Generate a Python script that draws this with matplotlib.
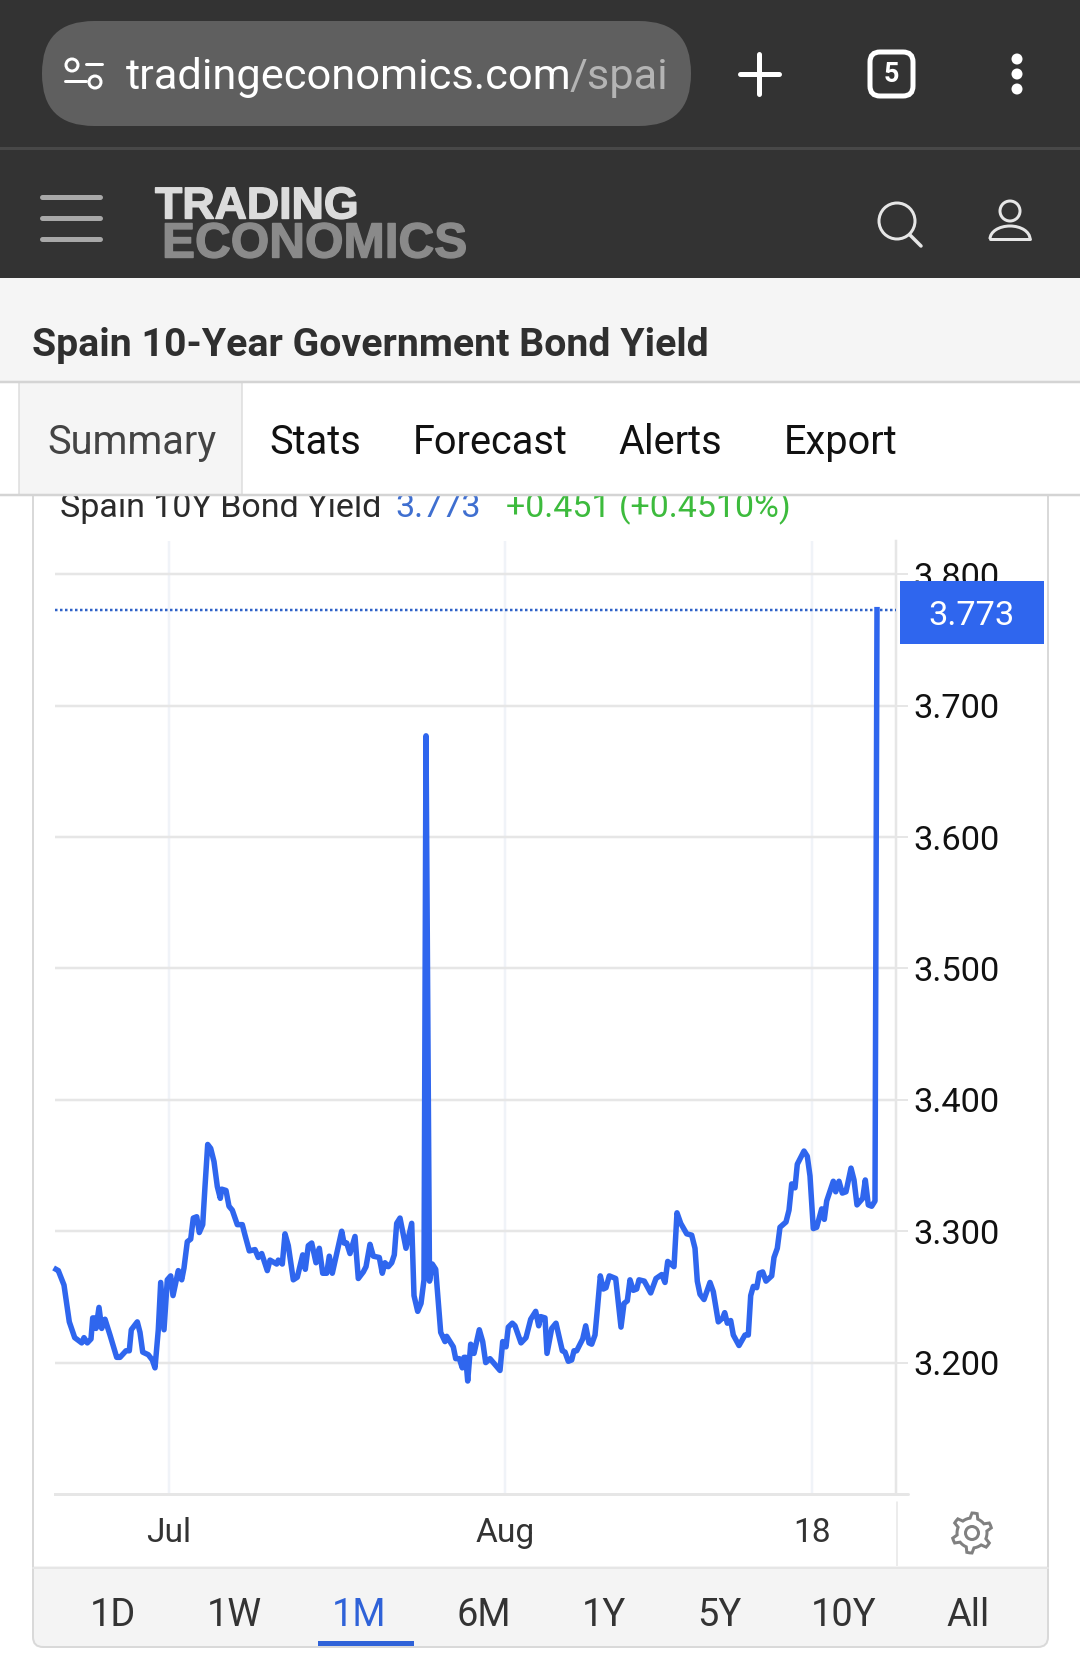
import matplotlib
matplotlib.use("Agg")
import matplotlib.pyplot as plt
import matplotlib.patheffects as pe
from matplotlib.patches import Rectangle, FancyBboxPatch, Circle, Polygon, Arc
import numpy as np

plt.rcParams['font.family'] = ['Roboto', 'DejaVu Sans']

# values, obs = position along the chart's ordinal x axis
obs = [1, 3.3, 9, 11.7, 14.3, 19.7, 26.7, 29, 32.3, 36, 37.7, 40, 41, 44, 46.7, 50, 55, 61.7, 65, 71,
       74.3, 76.3, 82.3, 85, 87.7, 93.3, 97.3, 100, 103.3, 105.7, 109, 112.3, 115.7, 118, 123.3, 126.7,
       129, 132.3, 135.7, 138.3, 141.7, 144.3, 147.7, 150, 152.7, 155.7, 159, 162.3, 165.3, 166.7, 171,
       174, 177.3, 182.3, 187.3, 190, 194.3, 200, 203.3, 206.7, 212.3, 215, 221.7, 223.3, 227.3, 230,
       233.3, 238.3, 242.3, 247.7, 250.3, 253.3, 256.7, 261, 264.3, 267.7, 271.7, 274.3, 277.3, 286.7,
       289, 291.7, 295, 300, 303.3, 308.3, 311, 315, 318.3, 324.3, 327.3, 330, 333.3, 336.7, 339.3,
       341.7, 345, 351, 356.7, 359, 362.7, 366, 369, 371, 374.5, 377.3, 380.7, 385.7, 390, 391.7, 398.3,
       400.7, 404.3, 407.3, 409, 410.7, 412.7, 415.7, 419, 424.3, 427.7, 430.7, 435, 445, 447.7, 451,
       453.3, 457.3, 460, 466, 471, 475.7, 480.7, 483.7, 485.7, 490, 492, 496.7, 501, 507.3, 510, 513.3,
       516.7, 519, 521.7, 527.7, 530.7, 534, 536.7, 540, 542.3, 545.3, 548.3, 551, 554.3, 560.7, 566,
       569, 572.3, 575, 578.3, 581.7, 584, 589.3, 595.7, 601, 606.7, 610, 612.7, 619, 622, 625.7, 631.7,
       636.7, 640, 642.3, 645, 649, 655, 658.3, 663.3, 667.7, 669.7, 672.3, 675.7, 678.3, 684, 690,
       693.3, 695.7, 698.3, 701.7, 704.3, 707.7, 711, 716.7, 719, 722.3, 725, 731, 734, 736.7, 740,
       742.3, 749, 752.3, 755, 758.3, 761.7, 766.7, 769.3, 771.7, 778.3, 780.7, 784, 787.3, 791, 796,
       799, 802, 807.7, 810.3, 813.3, 816.7, 820, 822]
yields = [3.271, 3.270, 3.259, 3.245, 3.231, 3.219, 3.215, 3.219, 3.215, 3.218, 3.234, 3.234, 3.226, 3.242,
          3.226, 3.233, 3.221, 3.204, 3.204, 3.209, 3.209, 3.225, 3.231, 3.223, 3.208, 3.206, 3.202, 3.196,
          3.225, 3.261, 3.225, 3.263, 3.266, 3.251, 3.270, 3.263, 3.272, 3.292, 3.294, 3.310, 3.311, 3.299,
          3.305, 3.334, 3.366, 3.363, 3.353, 3.334, 3.325, 3.332, 3.331, 3.319, 3.316, 3.305, 3.305, 3.297,
          3.285, 3.286, 3.280, 3.283, 3.270, 3.278, 3.275, 3.278, 3.275, 3.298, 3.289, 3.263, 3.265, 3.282,
          3.271, 3.289, 3.291, 3.276, 3.287, 3.268, 3.268, 3.281, 3.268, 3.300, 3.291, 3.291, 3.283, 3.296,
          3.264, 3.269, 3.273, 3.290, 3.281, 3.280, 3.268, 3.276, 3.273, 3.276, 3.282, 3.306, 3.310, 3.287,
          3.306, 3.251, 3.239, 3.245, 3.263, 3.677, 3.262, 3.275, 3.271, 3.223, 3.216, 3.220, 3.212, 3.203,
          3.203, 3.196, 3.204, 3.204, 3.186, 3.214, 3.207, 3.225, 3.216, 3.200, 3.203, 3.194, 3.216, 3.212,
          3.227, 3.230, 3.228, 3.215, 3.219, 3.233, 3.239, 3.228, 3.235, 3.234, 3.207, 3.226, 3.230, 3.209,
          3.208, 3.201, 3.202, 3.209, 3.209, 3.218, 3.228, 3.215, 3.214, 3.221, 3.240, 3.266, 3.256, 3.257,
          3.266, 3.264, 3.227, 3.245, 3.247, 3.263, 3.255, 3.256, 3.263, 3.262, 3.253, 3.264, 3.267, 3.261,
          3.277, 3.273, 3.314, 3.306, 3.298, 3.297, 3.287, 3.262, 3.252, 3.248, 3.261, 3.254, 3.231, 3.234,
          3.238, 3.230, 3.232, 3.221, 3.213, 3.221, 3.221, 3.251, 3.258, 3.257, 3.268, 3.269, 3.262, 3.266,
          3.280, 3.287, 3.303, 3.307, 3.316, 3.336, 3.333, 3.351, 3.361, 3.357, 3.342, 3.302, 3.303, 3.317,
          3.309, 3.323, 3.338, 3.330, 3.338, 3.329, 3.330, 3.348, 3.339, 3.320, 3.325, 3.339, 3.320, 3.319,
          3.323, 3.773]
last_value = 3.773
x_tick_pos = [114, 450, 757]
x_tick_labels = ["Jul", "Aug", "18"]
y_ticks = [3.2, 3.3, 3.4, 3.5, 3.6, 3.7, 3.8]
ranges = ["1D", "1W", "1M", "6M", "1Y", "5Y", "10Y", "All"]
range_x = [113, 234, 359, 484, 604, 719, 844, 968]
tabs = ["Summary", "Stats", "Forecast", "Alerts", "Export"]
tab_x = [47, 269, 413, 618, 784]

W, H = 1080, 1678
BLUE = "#2f66ee"
DARK = "#333333"
GRID = "#e6e6e6"


def pt(px):
    return px * 0.72


fig = plt.figure(figsize=(W / 100, H / 100), dpi=100, facecolor="white")

# chart in the middle
left, right, top, bottom = 55, 896, 541, 1494
ax = fig.add_axes([left / W, 1 - bottom / H, (right - left) / W, (bottom - top) / H], zorder=1)
ax.plot(obs, yields, color=BLUE, lw=pt(5.5), solid_joinstyle="round", zorder=4, clip_on=False)
ax.axhline(last_value, color="#2f62c8", lw=pt(2.5), ls=(0, (1, 1)), zorder=3)
ax.set_xlim(0, right - left)
ax.set_ylim(3.1, 3.1 + (bottom - top) / 1314)
ax.set_yticks(y_ticks)
ax.set_yticklabels(["%.3f" % v for v in y_ticks], fontsize=pt(34.4), color="#111111")
ax.yaxis.tick_right()
ax.tick_params(axis="y", length=pt(12), width=pt(2), color=GRID, pad=pt(5))
ax.set_xticks(x_tick_pos)
ax.set_xticklabels(x_tick_labels, fontsize=pt(33.5), color="#333333")
ax.tick_params(axis="x", length=0, pad=pt(23))
ax.grid(axis="y", color=GRID, lw=pt(2.5))
ax.grid(axis="x", color="#f0f3f8", lw=pt(2.5))
ax.set_axisbelow(True)
for s in ["top", "left"]:
    ax.spines[s].set_visible(False)
ax.spines["right"].set_color(GRID)
ax.spines["right"].set_linewidth(pt(2.5))
ax.spines["bottom"].set_color(GRID)
ax.spines["bottom"].set_linewidth(pt(3))

# page furniture, in pixels
ui = fig.add_axes([0, 0, 1, 1], zorder=2)
ui.set_xlim(0, W)
ui.set_ylim(H, 0)
ui.axis("off")
ui.patch.set_alpha(0)


def rect(x0, y0, x1, y1, color, z=2):
    ui.add_patch(Rectangle((x0, y0), x1 - x0, y1 - y0, facecolor=color, edgecolor="none", zorder=z))


def line(xs, ys, color, w, z=5):
    ui.plot(xs, ys, color=color, lw=pt(w), solid_capstyle="round", zorder=z)


def text(x, y, s, size, color, ha="left", weight="normal", z=6, **kw):
    ui.text(x, y, s, fontsize=pt(size), color=color, ha=ha, va="center", fontweight=weight, zorder=z, **kw)


# card borders, range bar
line([33, 33], [495, 1630], "#d9d9d9", 2, 1)
line([1048, 1048], [495, 1630], "#d9d9d9", 2, 1)
line([896, 908], [1494, 1494], GRID, 3, 1)
line([897, 897], [1502, 1568], GRID, 1.5, 1)
ui.add_patch(FancyBboxPatch((33, 1568), 1015, 79, boxstyle="round,pad=0,rounding_size=10",
                            facecolor="#f4f4f4", edgecolor="#d9d9d9", lw=pt(2), zorder=1))
rect(34, 1566, 1047, 1600, "#f4f4f4", 1)
line([33, 1048], [1568, 1568], GRID, 2, 1)
for r, rx in zip(ranges, range_x):
    text(rx, 1615, r, 38, "#2f62d8" if r == "1M" else "#333333", ha="center")
rect(318, 1641, 414, 1646, "#2f62d8", 3)

# gear
ang = np.linspace(0, 2 * np.pi, 48, endpoint=False) + np.pi / 2
rad = np.where((np.arange(48) % 8) < 3, 20, 15)
ui.add_patch(Polygon(np.c_[972 + rad * np.cos(ang), 1533 + rad * np.sin(ang)], closed=True, fill=False,
                     edgecolor="#808080", lw=pt(3), zorder=5))
ui.add_patch(Circle((972, 1533), 6.5, fill=False, edgecolor="#808080", lw=pt(3), zorder=5))

# legend row, cut off by the tab bar
text(60, 508, "Spain 10Y Bond Yield", 34, "#2b2b2b", z=1)
text(395, 508, "3.773", 34, "#3f6fd0", z=1)
text(506, 508, "+0.451 (+0.4510%)", 34, "#3dbb3d", z=1)

# last value flag
rect(900, 581, 1044, 644, BLUE, 3)
text(972, 616, "3.773", 34.4, "white", ha="center")

# tab row
rect(0, 382, W, 495, "white", 2)
rect(19, 382, 242, 495, "#f5f5f5", 2)
line([19, 19], [382, 495], "#dddddd", 1.5, 3)
line([242, 242], [382, 495], "#dddddd", 1.5, 3)
line([0, W], [382, 382], "#d4d4d4", 2.5, 3)
line([0, W], [495, 495], "#d4d4d4", 2.5, 3)
for t, tx in zip(tabs, tab_x):
    text(tx, 443, t, 39.8, "#444444" if t == "Summary" else "#111111")

# title strip
rect(0, 278, W, 381, "#f5f5f5", 2)
text(32, 345, "Spain 10-Year Government Bond Yield", 39.2, "#2f2f2f", weight="bold")

# dark header
rect(0, 0, W, 278, DARK, 2)
rect(0, 147, W, 150, "#484848", 3)
ui.add_patch(FancyBboxPatch((42, 21), 649, 105, boxstyle="round,pad=0,rounding_size=52",
                            facecolor="#5f5f5f", edgecolor="none", zorder=3))
ui.add_patch(Circle((72, 65), 6, fill=False, edgecolor="white", lw=pt(3), zorder=5))
ui.add_patch(Circle((95, 82), 6, fill=False, edgecolor="white", lw=pt(3), zorder=5))
line([86, 102], [64, 64], "white", 3)
line([65, 86], [81, 81], "white", 3)
text(126, 77, "tradingeconomics.com", 43.4, "white")
text(570, 77, "/spai", 43.4, "#b4b4b4")
line([740, 779], [74, 74], "white", 5)
line([759, 759], [54, 94], "white", 5)
ui.add_patch(FancyBboxPatch((870, 52), 43, 44, boxstyle="round,pad=0,rounding_size=10",
                            fill=False, edgecolor="white", lw=pt(5), zorder=5))
text(891.5, 75, "5", 27, "white", ha="center", weight="bold")
for dy in [59, 74, 89]:
    ui.add_patch(Circle((1017, dy), 5.5, facecolor="white", edgecolor="none", zorder=5))
for hy in [197, 218, 239]:
    line([42, 100], [hy, hy], "#a8a8a8", 5)
ui.text(155, 207, "TRADING", fontsize=pt(44.7), family="Liberation Sans", fontweight="bold",
        color="#dcdcdc", va="center", zorder=6,
        path_effects=[pe.withStroke(linewidth=1, foreground="#dcdcdc")])
ui.text(162, 245, "ECONOMICS", fontsize=pt(49.5), family="Liberation Sans", fontweight="bold",
        color="#8a8a8a", va="center", zorder=6,
        path_effects=[pe.withStroke(linewidth=1, foreground="#8a8a8a")])
ui.add_patch(Circle((897, 221), 18, fill=False, edgecolor="#e6e6e6", lw=pt(3), zorder=5))
line([910, 921], [235, 246], "#e6e6e6", 3.5)
ui.add_patch(Circle((1010, 211), 10, fill=False, edgecolor="#e6e6e6", lw=pt(3), zorder=5))
ui.add_patch(Arc((1010, 239), 40, 26, theta1=180, theta2=360, edgecolor="#e6e6e6", lw=pt(3), zorder=5))
line([990, 1030], [239, 239], "#e6e6e6", 3)

fig.savefig("out.png", dpi=100)
